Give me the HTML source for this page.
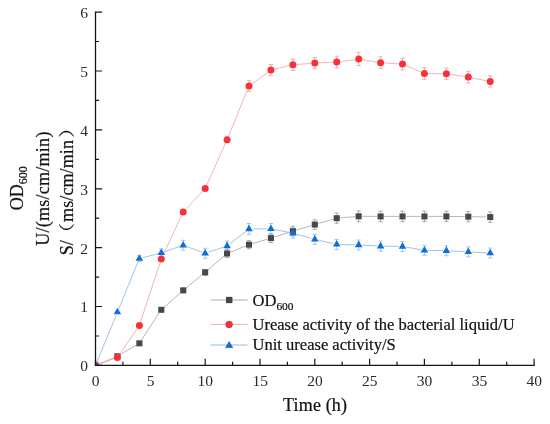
<!DOCTYPE html>
<html><head><meta charset="utf-8"><title>Chart</title>
<style>html,body{margin:0;padding:0;background:#fff}svg{display:block}</style></head>
<body>
<svg width="550" height="424" viewBox="0 0 550 424">
<rect width="550" height="424" fill="#fff"/>
<defs><clipPath id="plot"><rect x="95.5" y="0" width="454.5" height="365.4"/></clipPath></defs>
<g clip-path="url(#plot)">
<path d="M161.3 308.0V311.6M159.1 308.0h4.4M159.1 311.6h4.4M183.2 288.0V292.7M181.0 288.0h4.4M181.0 292.7h4.4M205.2 269.4V275.3M203.0 269.4h4.4M203.0 275.3h4.4M227.1 249.4V257.6M224.9 249.4h4.4M224.9 257.6h4.4M249.0 240.6V248.8M246.8 240.6h4.4M246.8 248.8h4.4M270.9 233.7V242.5M268.7 233.7h4.4M268.7 242.5h4.4M292.9 226.4V235.9M290.7 226.4h4.4M290.7 235.9h4.4M314.8 219.8V229.3M312.6 219.8h4.4M312.6 229.3h4.4M336.7 213.2V223.2M334.5 213.2h4.4M334.5 223.2h4.4M358.7 210.9V221.7M356.5 210.9h4.4M356.5 221.7h4.4M380.6 211.1V221.7M378.4 211.1h4.4M378.4 221.7h4.4M402.5 211.1V221.7M400.3 211.1h4.4M400.3 221.7h4.4M424.4 211.2V221.6M422.2 211.2h4.4M422.2 221.6h4.4M446.4 211.2V221.6M444.2 211.2h4.4M444.2 221.6h4.4M468.3 211.5V221.8M466.1 211.5h4.4M466.1 221.8h4.4M490.2 211.9V222.3M488.0 211.9h4.4M488.0 222.3h4.4" stroke="#8c8c8c" stroke-width="0.7" fill="none"/>
<path d="M227.1 137.1V142.3M224.9 137.1h4.4M224.9 142.3h4.4M249.0 80.8V91.4M246.8 80.8h4.4M246.8 91.4h4.4M270.9 64.5V75.7M268.7 64.5h4.4M268.7 75.7h4.4M292.9 59.2V70.4M290.7 59.2h4.4M290.7 70.4h4.4M314.8 57.5V68.7M312.6 57.5h4.4M312.6 68.7h4.4M336.7 56.2V68.0M334.5 56.2h4.4M334.5 68.0h4.4M358.7 52.6V65.6M356.5 52.6h4.4M356.5 65.6h4.4M380.6 56.8V68.6M378.4 56.8h4.4M378.4 68.6h4.4M402.5 58.2V70.0M400.3 58.2h4.4M400.3 70.0h4.4M424.4 67.7V79.3M422.2 67.7h4.4M422.2 79.3h4.4M446.4 68.0V79.4M444.2 68.0h4.4M444.2 79.4h4.4M468.3 71.3V82.9M466.1 71.3h4.4M466.1 82.9h4.4M490.2 76.0V87.1M488.0 76.0h4.4M488.0 87.1h4.4" stroke="#e8949a" stroke-width="0.7" fill="none"/>
<path d="M139.4 255.6V261.5M137.2 255.6h4.4M137.2 261.5h4.4M161.3 248.8V257.1M159.1 248.8h4.4M159.1 257.1h4.4M183.2 240.3V250.3M181.0 240.3h4.4M181.0 250.3h4.4M205.2 248.3V258.3M203.0 248.3h4.4M203.0 258.3h4.4M227.1 241.0V251.0M224.9 241.0h4.4M224.9 251.0h4.4M249.0 223.5V234.4M246.8 223.5h4.4M246.8 234.4h4.4M270.9 223.5V234.1M268.7 223.5h4.4M268.7 234.1h4.4M292.9 228.2V238.2M290.7 228.2h4.4M290.7 238.2h4.4M314.8 234.4V244.4M312.6 234.4h4.4M312.6 244.4h4.4M336.7 239.4V249.4M334.5 239.4h4.4M334.5 249.4h4.4M358.7 240.0V250.0M356.5 240.0h4.4M356.5 250.0h4.4M380.6 241.2V251.2M378.4 241.2h4.4M378.4 251.2h4.4M402.5 241.5V251.5M400.3 241.5h4.4M400.3 251.5h4.4M424.4 245.3V255.3M422.2 245.3h4.4M422.2 255.3h4.4M446.4 245.7V255.7M444.2 245.7h4.4M444.2 255.7h4.4M468.3 246.8V256.8M466.1 246.8h4.4M466.1 256.8h4.4M490.2 248.1V258.1M488.0 248.1h4.4M488.0 258.1h4.4" stroke="#7fb0ea" stroke-width="0.7" fill="none"/>
<path d="M98.8 364.0L114.1 357.7M120.5 354.4L136.3 345.1M141.3 340.3L159.3 312.8M164.0 307.4L180.5 292.8M186.0 288.1L202.4 274.6M207.9 270.0L224.3 255.9M230.4 252.2L245.7 246.0M252.5 243.7L267.5 239.1M274.4 237.0L289.4 232.2M296.3 230.1L311.4 225.6M318.3 223.5L333.3 219.2M340.3 217.9L355.1 216.6M362.3 216.3L377.0 216.4M384.2 216.4L398.9 216.4M406.1 216.4L420.8 216.4M428.1 216.4L442.8 216.4M450.0 216.5L464.7 216.6M471.9 216.7L486.6 217.0" fill="none" stroke="#a4a4a4" stroke-width="0.8"/>
<rect x="92.45" y="362.40" width="6.1" height="6.0" fill="#48484b"/>
<rect x="114.38" y="353.27" width="6.1" height="6.0" fill="#48484b"/>
<rect x="136.31" y="340.32" width="6.1" height="6.0" fill="#48484b"/>
<rect x="158.24" y="306.81" width="6.1" height="6.0" fill="#48484b"/>
<rect x="180.17" y="287.38" width="6.1" height="6.0" fill="#48484b"/>
<rect x="202.10" y="269.36" width="6.1" height="6.0" fill="#48484b"/>
<rect x="224.03" y="250.52" width="6.1" height="6.0" fill="#48484b"/>
<rect x="245.96" y="241.69" width="6.1" height="6.0" fill="#48484b"/>
<rect x="267.89" y="235.09" width="6.1" height="6.0" fill="#48484b"/>
<rect x="289.82" y="228.15" width="6.1" height="6.0" fill="#48484b"/>
<rect x="311.75" y="221.55" width="6.1" height="6.0" fill="#48484b"/>
<rect x="333.68" y="215.19" width="6.1" height="6.0" fill="#48484b"/>
<rect x="355.61" y="213.31" width="6.1" height="6.0" fill="#48484b"/>
<rect x="377.54" y="213.43" width="6.1" height="6.0" fill="#48484b"/>
<rect x="399.47" y="213.43" width="6.1" height="6.0" fill="#48484b"/>
<rect x="421.40" y="213.43" width="6.1" height="6.0" fill="#48484b"/>
<rect x="443.33" y="213.43" width="6.1" height="6.0" fill="#48484b"/>
<rect x="465.26" y="213.66" width="6.1" height="6.0" fill="#48484b"/>
<rect x="487.19" y="214.07" width="6.1" height="6.0" fill="#48484b"/>
<path d="M98.9 364.2L114.0 358.7M119.5 354.5L137.3 328.4M140.5 322.1L160.2 262.3M162.8 255.6L181.7 215.3M185.7 209.4L202.7 191.2M206.6 185.3L225.6 143.0M228.4 136.4L247.6 89.4M251.9 84.0L268.0 72.2M274.4 69.3L289.4 65.6M296.5 64.5L311.2 63.4M318.4 62.9L333.1 62.3M340.3 61.6L355.1 59.6M362.2 59.7L377.0 62.1M384.2 62.9L398.9 63.9M405.8 65.5L421.1 72.1M428.0 73.5L442.8 73.7M449.9 74.2L464.8 76.6M471.8 77.8L486.7 80.8" fill="none" stroke="#f4a0a6" stroke-width="0.8"/>
<circle cx="95.5" cy="365.4" r="3.5" fill="#fa3039"/>
<circle cx="117.4" cy="357.5" r="3.5" fill="#fa3039"/>
<circle cx="139.4" cy="325.5" r="3.5" fill="#fa3039"/>
<circle cx="161.3" cy="258.9" r="3.5" fill="#fa3039"/>
<circle cx="183.2" cy="212.1" r="3.5" fill="#fa3039"/>
<circle cx="205.2" cy="188.6" r="3.5" fill="#fa3039"/>
<circle cx="227.1" cy="139.7" r="3.5" fill="#fa3039"/>
<circle cx="249.0" cy="86.1" r="3.5" fill="#fa3039"/>
<circle cx="270.9" cy="70.1" r="3.5" fill="#fa3039"/>
<circle cx="292.9" cy="64.8" r="3.5" fill="#fa3039"/>
<circle cx="314.8" cy="63.1" r="3.5" fill="#fa3039"/>
<circle cx="336.7" cy="62.1" r="3.5" fill="#fa3039"/>
<circle cx="358.7" cy="59.1" r="3.5" fill="#fa3039"/>
<circle cx="380.6" cy="62.7" r="3.5" fill="#fa3039"/>
<circle cx="402.5" cy="64.1" r="3.5" fill="#fa3039"/>
<circle cx="424.4" cy="73.5" r="3.5" fill="#fa3039"/>
<circle cx="446.4" cy="73.7" r="3.5" fill="#fa3039"/>
<circle cx="468.3" cy="77.1" r="3.5" fill="#fa3039"/>
<circle cx="490.2" cy="81.5" r="3.5" fill="#fa3039"/>
<path d="M96.9 362.1L116.1 315.4M118.8 308.8L138.0 261.9M142.8 257.7L157.8 253.8M164.7 251.7L179.8 246.5M186.6 246.5L201.8 252.1M208.6 252.1L223.7 247.1M229.9 243.8L246.2 231.2M252.6 228.9L267.3 228.8M274.5 229.5L289.3 232.5M296.3 234.2L311.3 238.4M318.3 240.2L333.2 243.6M340.3 244.5L355.1 244.9M362.3 245.2L377.0 246.0M384.2 246.2L398.9 246.4M406.1 247.1L420.9 249.7M428.0 250.4L442.8 250.6M450.0 250.9L464.7 251.6M471.9 252.0L486.6 252.9" fill="none" stroke="#8ab2e4" stroke-width="0.8"/>
<path d="M95.5 361.0L99.3 367.6H91.7Z" fill="#0e6fdc"/>
<path d="M117.4 307.7L121.2 314.3H113.6Z" fill="#0e6fdc"/>
<path d="M139.4 254.2L143.2 260.8H135.5Z" fill="#0e6fdc"/>
<path d="M161.3 248.5L165.1 255.1H157.5Z" fill="#0e6fdc"/>
<path d="M183.2 240.9L187.0 247.5H179.4Z" fill="#0e6fdc"/>
<path d="M205.2 248.9L209.0 255.5H201.3Z" fill="#0e6fdc"/>
<path d="M227.1 241.6L230.9 248.2H223.3Z" fill="#0e6fdc"/>
<path d="M249.0 224.6L252.8 231.2H245.2Z" fill="#0e6fdc"/>
<path d="M270.9 224.4L274.8 231.0H267.1Z" fill="#0e6fdc"/>
<path d="M292.9 228.8L296.7 235.4H289.1Z" fill="#0e6fdc"/>
<path d="M314.8 235.0L318.6 241.6H311.0Z" fill="#0e6fdc"/>
<path d="M336.7 240.0L340.5 246.6H332.9Z" fill="#0e6fdc"/>
<path d="M358.7 240.6L362.5 247.2H354.8Z" fill="#0e6fdc"/>
<path d="M380.6 241.8L384.4 248.4H376.8Z" fill="#0e6fdc"/>
<path d="M402.5 242.1L406.3 248.7H398.7Z" fill="#0e6fdc"/>
<path d="M424.4 245.9L428.3 252.5H420.6Z" fill="#0e6fdc"/>
<path d="M446.4 246.3L450.2 252.9H442.6Z" fill="#0e6fdc"/>
<path d="M468.3 247.4L472.1 254.0H464.5Z" fill="#0e6fdc"/>
<path d="M490.2 248.7L494.1 255.3H486.4Z" fill="#0e6fdc"/>
</g>
<path d="M95.5 11.5V365.4H534.7" fill="none" stroke="#161616" stroke-width="1.3"/>
<path d="M95.5 365.4h6.6M95.5 336.0h3.6M95.5 306.5h6.6M95.5 277.1h3.6M95.5 247.6h6.6M95.5 218.2h3.6M95.5 188.8h6.6M95.5 159.3h3.6M95.5 129.9h6.6M95.5 100.4h3.6M95.5 71.0h6.6M95.5 41.5h3.6M95.5 12.1h6.6M95.5 365.4v-6.6M122.9 365.4v-3.6M150.3 365.4v-6.6M177.7 365.4v-3.6M205.2 365.4v-6.6M232.6 365.4v-3.6M260.0 365.4v-6.6M287.4 365.4v-3.6M314.8 365.4v-6.6M342.2 365.4v-3.6M369.6 365.4v-6.6M397.0 365.4v-3.6M424.4 365.4v-6.6M451.9 365.4v-3.6M479.3 365.4v-6.6M506.7 365.4v-3.6M534.1 365.4v-6.6" fill="none" stroke="#161616" stroke-width="1.2"/>
<g font-family="'Liberation Serif', serif" font-size="15.5" fill="#2a2a2a">
<text x="88" y="371.3" text-anchor="end">0</text>
<text x="88" y="312.4" text-anchor="end">1</text>
<text x="88" y="253.5" text-anchor="end">2</text>
<text x="88" y="194.7" text-anchor="end">3</text>
<text x="88" y="135.8" text-anchor="end">4</text>
<text x="88" y="76.9" text-anchor="end">5</text>
<text x="88" y="18.0" text-anchor="end">6</text>
<text x="95.7" y="386.3" text-anchor="middle">0</text>
<text x="150.5" y="386.3" text-anchor="middle">5</text>
<text x="205.3" y="386.3" text-anchor="middle">10</text>
<text x="260.2" y="386.3" text-anchor="middle">15</text>
<text x="315.0" y="386.3" text-anchor="middle">20</text>
<text x="369.8" y="386.3" text-anchor="middle">25</text>
<text x="424.6" y="386.3" text-anchor="middle">30</text>
<text x="479.5" y="386.3" text-anchor="middle">35</text>
<text x="534.3" y="386.3" text-anchor="middle">40</text>
</g>
<g font-family="'Liberation Serif', 'Noto Serif CJK SC', serif" font-size="18" fill="#111" stroke="#111" stroke-width="0.22">
<text x="315.1" y="410.8" text-anchor="middle" letter-spacing="0.15">Time (h)</text>
<text transform="translate(22.8 188.2) rotate(-90)" text-anchor="middle">OD<tspan font-size="12" dy="4.3">600</tspan></text>
<text transform="translate(49.4 188.6) rotate(-90)" text-anchor="middle" letter-spacing="0.27">U/(ms/cm/min)</text>
<text transform="translate(72.5 255.3) rotate(-90)">S/</text>
<text transform="translate(71.75 242.85) rotate(-90) scale(1.09 0.872)">（</text>
<text transform="translate(72.5 221.9) rotate(-90)" letter-spacing="0.1">ms/cm/min</text>
<text transform="translate(71.75 137.7) rotate(-90) scale(1.09 0.872)">）</text>
</g>
<g font-family="'Liberation Serif', serif" font-size="16.55" fill="#111" stroke="#111" stroke-width="0.2">
<path d="M210.7 300H247.6" stroke="#a4a4a4" stroke-width="0.9"/>
<rect x="226.10" y="297.00" width="6.1" height="6.0" fill="#48484b"/>
<text x="252.5" y="306">OD<tspan font-size="11.4" dy="3.8">600</tspan></text>
<path d="M210.7 324.4H247.6" stroke="#f4a0a6" stroke-width="0.9"/>
<circle cx="229.1" cy="324.4" r="3.5" fill="#fa3039"/>
<text x="252.5" y="329.7">Urease activity of the bacterial liquid/U</text>
<path d="M210.7 345H247.6" stroke="#8ab2e4" stroke-width="0.9"/>
<path d="M229.1 341.2L233.0 347.8H225.3Z" fill="#0e6fdc"/>
<text x="252.5" y="350.2">Unit urease activity/S</text>
</g>
</svg>
</body></html>
